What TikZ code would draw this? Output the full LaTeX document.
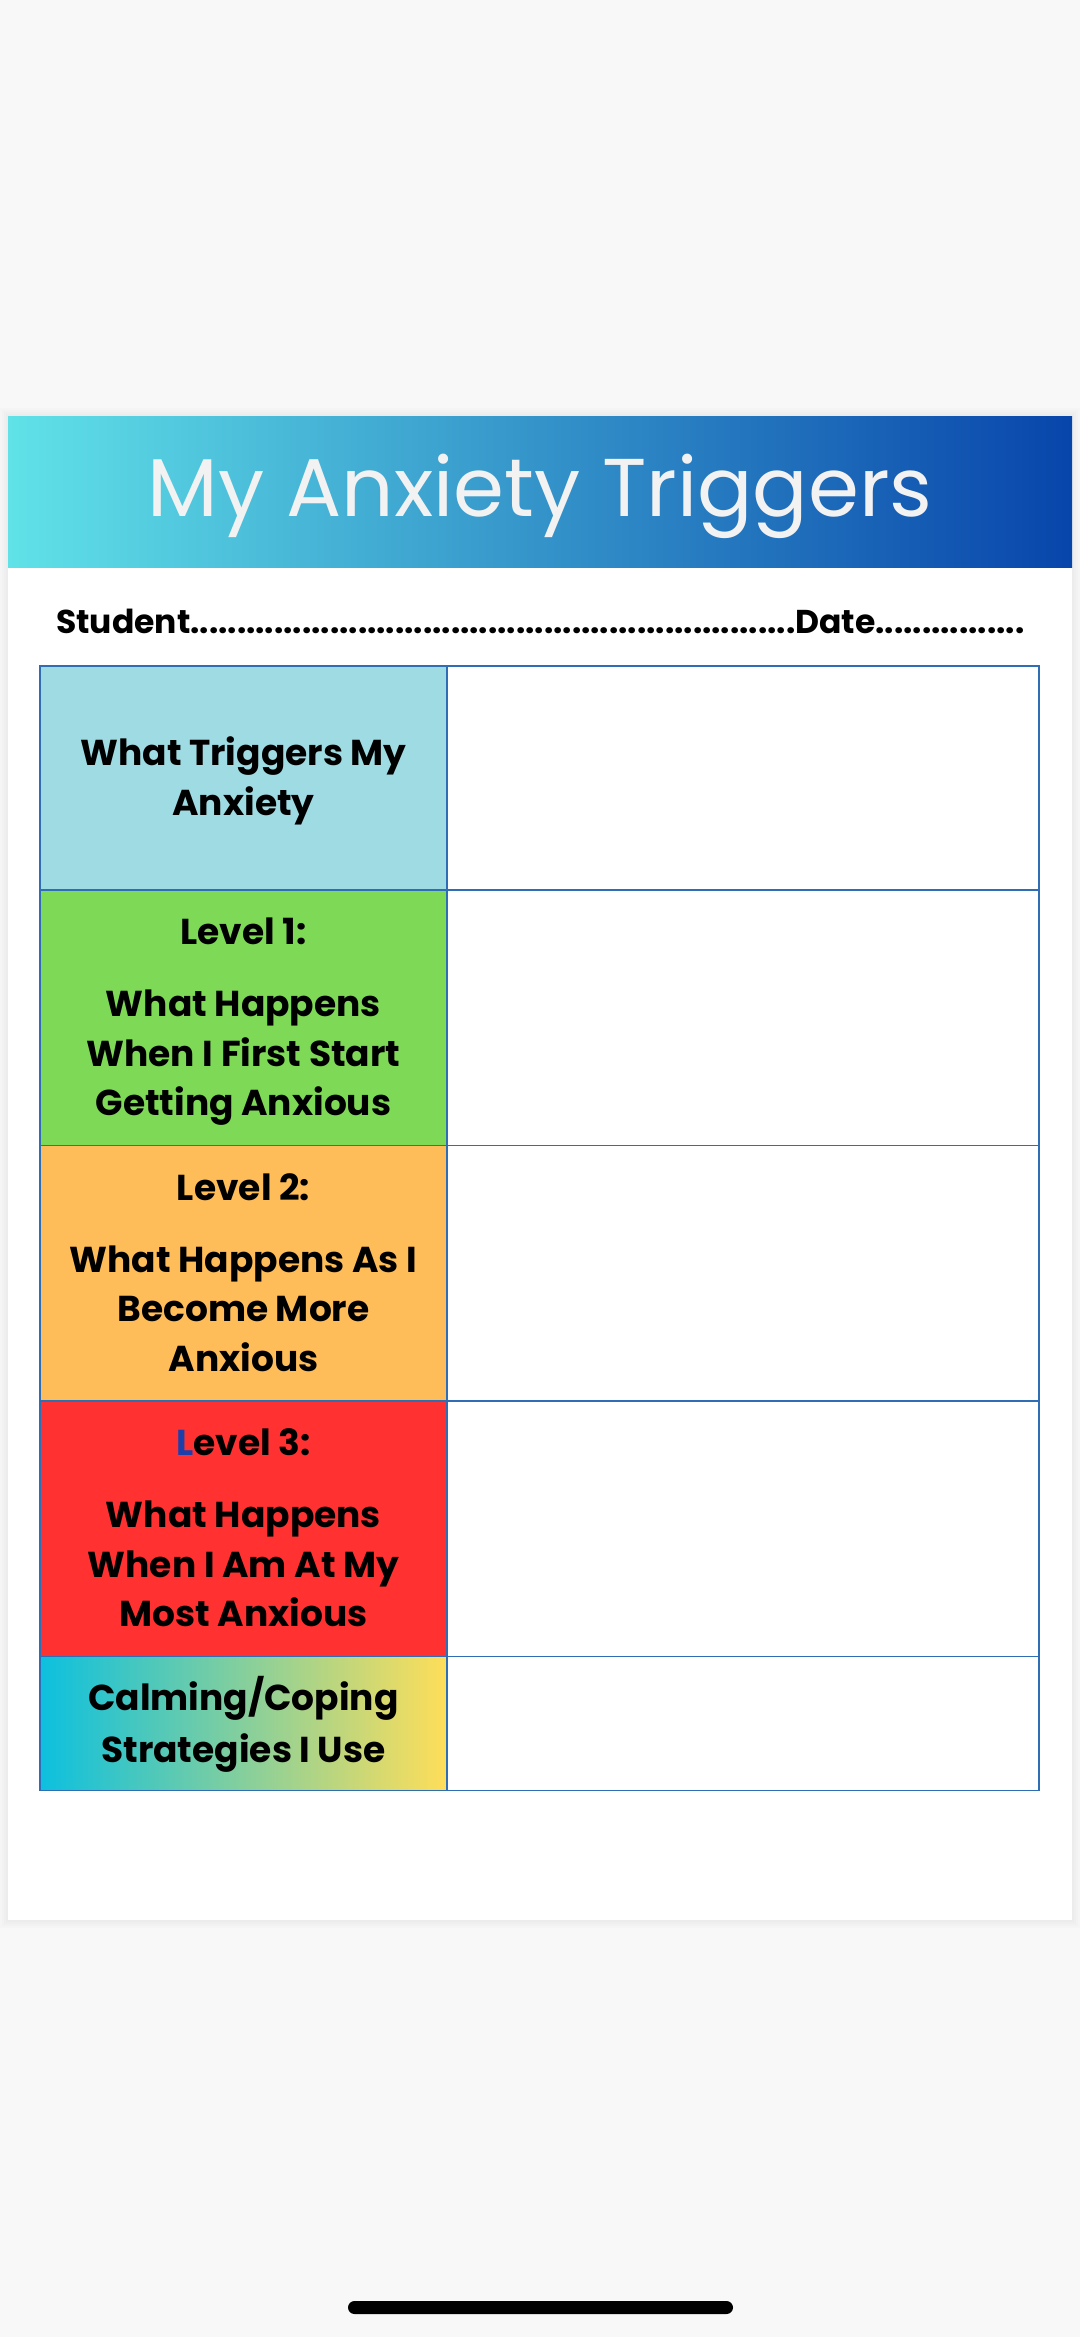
\documentclass[tikz,border=0pt]{standalone}
\usepackage{fontspec}
\setmainfont{Poppins}
\usetikzlibrary{positioning}
\definecolor{pageGrey}{HTML}{F8F8F8}
\definecolor{headLeft}{HTML}{60E2E8}
\definecolor{headRight}{HTML}{0845AB}
\definecolor{titleWhite}{HTML}{F2F2F2}
\definecolor{gridBlue}{HTML}{2F6DB5}
\definecolor{cellBlue}{HTML}{9FDBE3}
\definecolor{cellGreen}{HTML}{7ED957}
\definecolor{cellOrange}{HTML}{FFBD59}
\definecolor{cellRed}{HTML}{FF3131}
\definecolor{copeLeft}{HTML}{0CC0DF}
\definecolor{copeRight}{HTML}{FFDE59}
\definecolor{letterBlue}{HTML}{1C3FAA}
\newcommand{\rowtop}{\rule{0pt}{40pt}}
\tikzset{
  gridcell/.style={draw=gridBlue, line width=1.5pt, inner sep=0pt, outer sep=0pt, anchor=north west},
  labelcell/.style={gridcell, minimum width=407pt, font=\bfseries\fontsize{36}{49.5}\selectfont, align=center, execute at end node=\strut},
  blankcell/.style={gridcell, fill=white, minimum width=592pt},
  cardsheet/.style={inner sep=0pt, outer sep=0pt, anchor=north west},
}
\begin{document}
\begin{tikzpicture}[x=1pt, y=-1pt, node distance=0pt]
      \useasboundingbox (0,0) rectangle (1080,2337);
      \fill[pageGrey] (0,0) rectangle (1080,2337);
      % soft edge round the sheet
      \foreach \grow in {8,6,4,2} {
        \node[cardsheet, fill=black, fill opacity=0.012, minimum width=1064pt+2*\grow pt, minimum height=1504pt+2*\grow pt] (shadow\grow) at (8-\grow,416-\grow) {};
      }
      \node[cardsheet, fill=white, minimum width=1064pt, minimum height=1504pt] (card) at (8,416) {};
      \node[cardsheet, left color=headLeft, right color=headRight, minimum width=1064pt, minimum height=151pt] (header) at (8,416) {};
      \node[text=titleWhite, font=\fontsize{82}{90}\selectfont] (title) at (540,496) {My Anxiety Triggers};
      \node[font=\bfseries\fontsize{33}{36}\selectfont, inner sep=0pt, anchor=base west] (student) at (56,633) {Student.................................................................Date................};
      % left column, each row hangs below the last
      \node[labelcell, fill=cellBlue, minimum height=224pt] (triggers) at (40,666) {\rowtop What Triggers My\\Anxiety};
      \node[labelcell, fill=cellGreen, minimum height=255.5pt, below=of triggers.south west, anchor=north west] (level1) {\rowtop Level 1:\\[22.5pt]What Happens\\When I First Start\\Getting Anxious};
      \node[labelcell, fill=cellOrange, minimum height=255.5pt, below=of level1.south west, anchor=north west] (level2) {\rowtop Level 2:\\[22.5pt]What Happens As I\\Become More\\Anxious};
      \node[labelcell, fill=cellRed, minimum height=255.5pt, below=of level2.south west, anchor=north west] (level3) {\rowtop{\color{letterBlue}L}evel 3:\\[22.5pt]What Happens\\When I Am At My\\Most Anxious};
      \node[labelcell, left color=copeLeft, right color=copeRight, minimum height=134pt, below=of level3.south west, anchor=north west] (coping) {\rowtop Calming/Coping\\[2.5pt]Strategies I Use};
      % right column is left empty
      \foreach \row/\rowh in {triggers/224, level1/255.5, level2/255.5, level3/255.5, coping/134} {
        \node[blankcell, minimum height=\rowh pt, right=of \row.north east, anchor=north west] (\row blank) {};
      }
      \node[fill=black, rounded corners=6.5pt, inner sep=0pt, minimum width=385pt, minimum height=13pt] (homebar) at (540.5,2307.5) {};
    \end{tikzpicture}
\end{document}
